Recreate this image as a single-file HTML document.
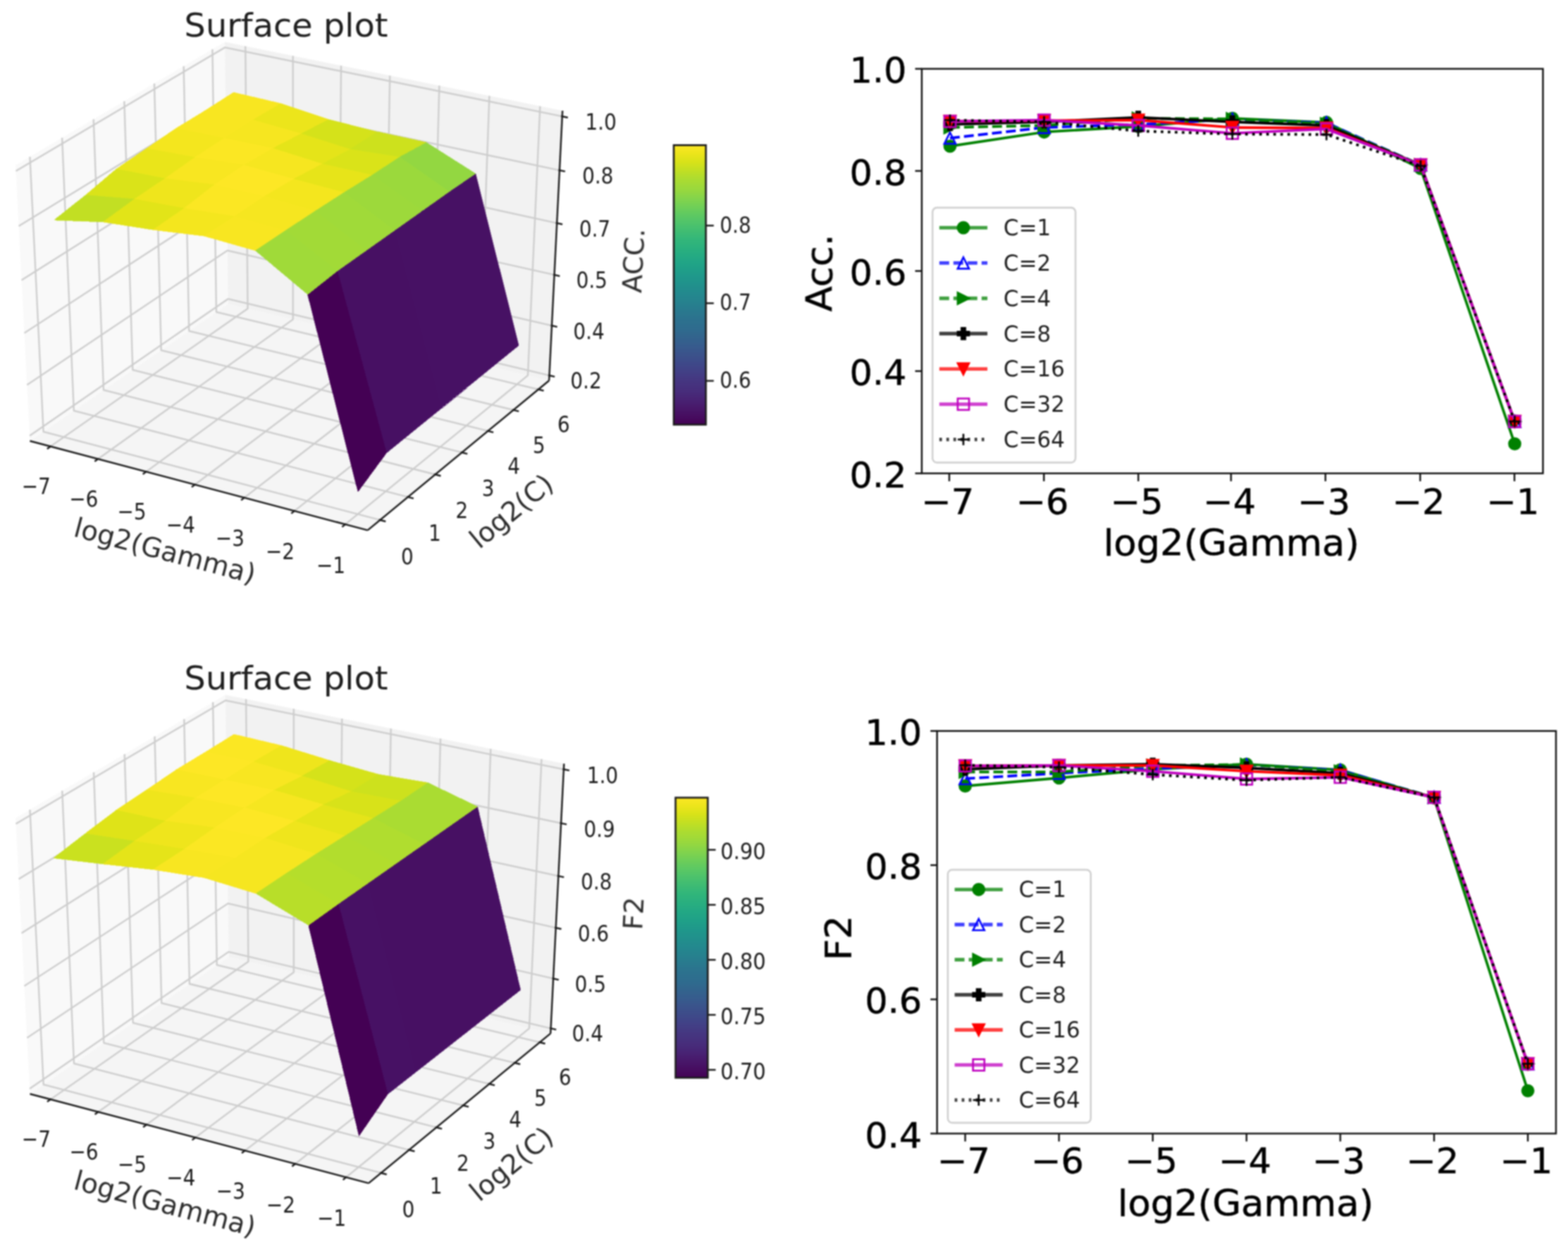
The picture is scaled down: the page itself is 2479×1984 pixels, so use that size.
<!DOCTYPE html><html><head><meta charset="utf-8"><title>Surface plot</title><style>html,body{margin:0;padding:0;background:#fff}svg{display:block;font-family:"DejaVu Sans","Liberation Sans",sans-serif}</style></head><body>
<svg width="2479" height="1984" viewBox="0 0 2479 1984">
<rect width="2479" height="1984" fill="#fff"/>
<filter id="bl" x="0" y="0" width="100%" height="100%" filterUnits="userSpaceOnUse" color-interpolation-filters="sRGB"><feGaussianBlur stdDeviation="1.0"/></filter><g filter="url(#bl)">
<g>
<polygon points="47.3,697.18 360.59,480.47 355.37,66.37 24.61,261.08" fill="#f9f9f9"/>
<polygon points="360.59,480.47 868.1,601.63 889.33,175.04 355.37,66.37" fill="#f2f2f2"/>
<polygon points="47.3,697.18 581.26,838.29 868.1,601.63 360.59,480.47" fill="#f5f5f5"/>
<g stroke="#cdcdcd" stroke-width="2.6" fill="none" stroke-linejoin="round">
<polyline points="79.85,705.78 391.63,487.88 387.96,73.01"/>
<polyline points="154.96,725.63 463.19,504.97 463.14,88.3"/>
<polyline points="231.06,745.74 535.64,522.26 539.28,103.8"/>
<polyline points="308.18,766.12 608.97,539.77 616.41,119.5"/>
<polyline points="386.33,786.77 683.21,557.49 694.54,135.4"/>
<polyline points="465.52,807.7 758.38,575.43 773.7,151.51"/>
<polyline points="545.8,828.92 834.5,593.61 853.91,167.83"/>
<polyline points="47.26,247.75 68.67,682.4 600.89,822.09"/>
<polyline points="98.16,217.79 116.75,649.14 645.01,785.69"/>
<polyline points="147.89,188.52 163.77,616.61 688.13,750.12"/>
<polyline points="196.48,159.91 209.78,584.79 730.26,715.35"/>
<polyline points="243.97,131.95 254.8,553.65 771.45,681.36"/>
<polyline points="290.41,104.62 298.86,523.17 811.73,648.13"/>
<polyline points="335.82,77.88 342,493.33 851.13,615.62"/>
<polyline points="868.5,593.51 360.49,472.58 46.87,688.9"/>
<polyline points="872.42,514.79 359.53,396.03 42.69,608.53"/>
<polyline points="876.41,434.52 358.54,318.04 38.42,526.53"/>
<polyline points="880.49,352.67 357.54,238.58 34.07,442.86"/>
<polyline points="884.64,269.18 356.52,157.6 29.63,357.45"/>
<polyline points="888.88,184.01 355.48,75.06 25.09,270.27"/>
</g>
<g stroke="#1c1c1c" stroke-width="2.7" fill="none" stroke-linecap="butt">
<line x1="47.3" y1="697.18" x2="581.26" y2="838.29"/>
<line x1="868.1" y1="601.63" x2="581.26" y2="838.29"/>
<line x1="868.1" y1="601.63" x2="889.33" y2="175.04"/>
<line x1="80.93" y1="705.03" x2="74.47" y2="709.55"/>
<line x1="156.02" y1="724.87" x2="149.64" y2="729.44"/>
<line x1="232.12" y1="744.97" x2="225.8" y2="749.61"/>
<line x1="309.22" y1="765.34" x2="302.98" y2="770.04"/>
<line x1="387.35" y1="785.98" x2="381.19" y2="790.74"/>
<line x1="466.54" y1="806.9" x2="460.46" y2="811.72"/>
<line x1="546.8" y1="828.1" x2="540.8" y2="832.99"/>
<line x1="599.11" y1="821.62" x2="609.81" y2="824.43"/>
<line x1="643.25" y1="785.23" x2="653.86" y2="787.97"/>
<line x1="686.37" y1="749.67" x2="696.9" y2="752.35"/>
<line x1="728.52" y1="714.91" x2="738.97" y2="717.53"/>
<line x1="769.73" y1="680.94" x2="780.09" y2="683.5"/>
<line x1="810.02" y1="647.71" x2="820.3" y2="650.22"/>
<line x1="849.43" y1="615.22" x2="859.64" y2="617.67"/>
<line x1="866.8" y1="593.11" x2="876.99" y2="595.53"/>
<line x1="870.71" y1="514.39" x2="880.99" y2="516.77"/>
<line x1="874.68" y1="434.13" x2="885.07" y2="436.47"/>
<line x1="878.74" y1="352.29" x2="889.23" y2="354.58"/>
<line x1="882.88" y1="268.81" x2="893.48" y2="271.05"/>
<line x1="887.1" y1="183.65" x2="897.81" y2="185.84"/>
</g>
<text transform="translate(57.21 780.55) scale(0.870 1)" font-size="35.7" text-anchor="middle" fill="#1e1e1e">−7</text>
<text transform="translate(132.31 800.79) scale(0.870 1)" font-size="35.7" text-anchor="middle" fill="#1e1e1e">−6</text>
<text transform="translate(208.41 821.29) scale(0.870 1)" font-size="35.7" text-anchor="middle" fill="#1e1e1e">−5</text>
<text transform="translate(285.52 842.06) scale(0.870 1)" font-size="35.7" text-anchor="middle" fill="#1e1e1e">−4</text>
<text transform="translate(363.66 863.11) scale(0.870 1)" font-size="35.7" text-anchor="middle" fill="#1e1e1e">−3</text>
<text transform="translate(442.86 884.45) scale(0.870 1)" font-size="35.7" text-anchor="middle" fill="#1e1e1e">−2</text>
<text transform="translate(523.13 906.07) scale(0.870 1)" font-size="35.7" text-anchor="middle" fill="#1e1e1e">−1</text>
<text transform="translate(643.84 892.11) scale(0.870 1)" font-size="35.7" text-anchor="middle" fill="#1e1e1e">0</text>
<text transform="translate(687.43 855.2) scale(0.870 1)" font-size="35.7" text-anchor="middle" fill="#1e1e1e">1</text>
<text transform="translate(730.02 819.13) scale(0.870 1)" font-size="35.7" text-anchor="middle" fill="#1e1e1e">2</text>
<text transform="translate(771.64 783.88) scale(0.870 1)" font-size="35.7" text-anchor="middle" fill="#1e1e1e">3</text>
<text transform="translate(812.34 749.42) scale(0.870 1)" font-size="35.7" text-anchor="middle" fill="#1e1e1e">4</text>
<text transform="translate(852.13 715.72) scale(0.870 1)" font-size="35.7" text-anchor="middle" fill="#1e1e1e">5</text>
<text transform="translate(891.05 682.76) scale(0.870 1)" font-size="35.7" text-anchor="middle" fill="#1e1e1e">6</text>
<text transform="translate(926.49 614.17) scale(0.870 1)" font-size="35.7" text-anchor="middle" fill="#1e1e1e">0.2</text>
<text transform="translate(931.01 535.58) scale(0.870 1)" font-size="35.7" text-anchor="middle" fill="#1e1e1e">0.4</text>
<text transform="translate(935.62 455.45) scale(0.870 1)" font-size="35.7" text-anchor="middle" fill="#1e1e1e">0.5</text>
<text transform="translate(940.32 373.74) scale(0.870 1)" font-size="35.7" text-anchor="middle" fill="#1e1e1e">0.7</text>
<text transform="translate(945.12 290.4) scale(0.870 1)" font-size="35.7" text-anchor="middle" fill="#1e1e1e">0.8</text>
<text transform="translate(950.01 205.39) scale(0.870 1)" font-size="35.7" text-anchor="middle" fill="#1e1e1e">1.0</text>
<g shape-rendering="crispEdges">
<polygon points="324.38,174.83 399.78,189.61 444.08,163.7 369.2,146.15" fill="#f8e621" stroke="#f8e621" stroke-width="0.8"/>
<polygon points="399.78,189.61 476.18,211.42 519.84,189.02 444.08,163.7" fill="#ece51b" stroke="#ece51b" stroke-width="0.8"/>
<polygon points="278.53,202.82 354.49,218.48 399.78,189.61 324.38,174.83" fill="#f8e621" stroke="#f8e621" stroke-width="0.8"/>
<polygon points="710.1,303.01 780.13,578.59 820.09,546.11 751.77,274.48" fill="#471164" stroke="#471164" stroke-width="0.8"/>
<polygon points="476.18,211.42 553.44,236.12 596.51,208.35 519.84,189.02" fill="#d5e21a" stroke="#d5e21a" stroke-width="0.8"/>
<polygon points="354.49,218.48 431.46,234.62 476.18,211.42 399.78,189.61" fill="#f6e620" stroke="#f6e620" stroke-width="0.8"/>
<polygon points="553.44,236.12 631.83,248.4 674.18,225.28 596.51,208.35" fill="#cde11d" stroke="#cde11d" stroke-width="0.8"/>
<polygon points="231.74,234.63 308.19,248.82 354.49,218.48 278.53,202.82" fill="#f4e61e" stroke="#f4e61e" stroke-width="0.8"/>
<polygon points="631.83,248.4 710.1,303.01 751.77,274.48 674.18,225.28" fill="#93d741" stroke="#93d741" stroke-width="0.8"/>
<polygon points="667.43,333.27 739.28,611.79 780.13,578.59 710.1,303.01" fill="#471164" stroke="#471164" stroke-width="0.8"/>
<polygon points="431.46,234.62 509.41,259.22 553.44,236.12 476.18,211.42" fill="#e5e419" stroke="#e5e419" stroke-width="0.8"/>
<polygon points="308.19,248.82 385.68,261.06 431.46,234.62 354.49,218.48" fill="#fbe723" stroke="#fbe723" stroke-width="0.8"/>
<polygon points="509.41,259.22 588.36,276.9 631.83,248.4 553.44,236.12" fill="#dae319" stroke="#dae319" stroke-width="0.8"/>
<polygon points="183.91,267.15 260.89,282.25 308.19,248.82 231.74,234.63" fill="#eae51a" stroke="#eae51a" stroke-width="0.8"/>
<polygon points="588.36,276.9 667.43,333.27 710.1,303.01 631.83,248.4" fill="#9bd93c" stroke="#9bd93c" stroke-width="0.8"/>
<polygon points="623.77,364.23 697.51,645.75 739.28,611.79 667.43,333.27" fill="#471164" stroke="#471164" stroke-width="0.8"/>
<polygon points="385.68,261.06 464.3,283.16 509.41,259.22 431.46,234.62" fill="#f6e620" stroke="#f6e620" stroke-width="0.8"/>
<polygon points="260.89,282.25 338.86,292.18 385.68,261.06 308.19,248.82" fill="#f8e621" stroke="#f8e621" stroke-width="0.8"/>
<polygon points="464.3,283.16 543.9,304.45 588.36,276.9 509.41,259.22" fill="#e7e419" stroke="#e7e419" stroke-width="0.8"/>
<polygon points="135.32,308.44 212.48,314.82 260.89,282.25 183.91,267.15" fill="#dae319" stroke="#dae319" stroke-width="0.8"/>
<polygon points="579.07,395.92 654.78,680.48 697.51,645.75 623.77,364.23" fill="#471063" stroke="#471063" stroke-width="0.8"/>
<polygon points="543.9,304.45 623.77,364.23 667.43,333.27 588.36,276.9" fill="#9dd93b" stroke="#9dd93b" stroke-width="0.8"/>
<polygon points="338.86,292.18 418.08,310.4 464.3,283.16 385.68,261.06" fill="#fde725" stroke="#fde725" stroke-width="0.8"/>
<polygon points="212.48,314.82 291.07,329.46 338.86,292.18 260.89,282.25" fill="#efe51c" stroke="#efe51c" stroke-width="0.8"/>
<polygon points="418.08,310.4 498.34,333.75 543.9,304.45 464.3,283.16" fill="#f4e61e" stroke="#f4e61e" stroke-width="0.8"/>
<polygon points="85.6,347.89 163.05,350.86 212.48,314.82 135.32,308.44" fill="#c2df23" stroke="#c2df23" stroke-width="0.8"/>
<polygon points="533.31,428.37 611.07,716.01 654.78,680.48 579.07,395.92" fill="#471063" stroke="#471063" stroke-width="0.8"/>
<polygon points="498.34,333.75 579.07,395.92 623.77,364.23 543.9,304.45" fill="#a0da39" stroke="#a0da39" stroke-width="0.8"/>
<polygon points="291.07,329.46 370.77,342.13 418.08,310.4 338.86,292.18" fill="#fbe723" stroke="#fbe723" stroke-width="0.8"/>
<polygon points="163.05,350.86 242.09,363.19 291.07,329.46 212.48,314.82" fill="#e2e418" stroke="#e2e418" stroke-width="0.8"/>
<polygon points="370.77,342.13 451.69,364.31 498.34,333.75 418.08,310.4" fill="#f6e620" stroke="#f6e620" stroke-width="0.8"/>
<polygon points="486.43,465.45 566.01,777.27 611.07,716.01 533.31,428.37" fill="#440154" stroke="#440154" stroke-width="0.8"/>
<polygon points="451.69,364.31 533.31,428.37 579.07,395.92 498.34,333.75" fill="#a2da37" stroke="#a2da37" stroke-width="0.8"/>
<polygon points="242.09,363.19 322.3,372.96 370.77,342.13 291.07,329.46" fill="#f4e61e" stroke="#f4e61e" stroke-width="0.8"/>
<polygon points="322.3,372.96 403.9,396.17 451.69,364.31 370.77,342.13" fill="#f8e621" stroke="#f8e621" stroke-width="0.8"/>
<polygon points="403.9,396.17 486.43,465.45 533.31,428.37 451.69,364.31" fill="#a0da39" stroke="#a0da39" stroke-width="0.8"/>
</g>
</g>
<text transform="translate(452.4 58.2) scale(1.035 1)" font-size="51.5" text-anchor="middle" fill="#1e1e1e">Surface plot</text>
<text transform="translate(257 885) rotate(14.84)" font-size="42.8" text-anchor="middle" fill="#2c2c2c">log2(Gamma)</text>
<text transform="translate(817.8 819.5) rotate(-39.5)" font-size="42.8" text-anchor="middle" fill="#2c2c2c">log2(C)</text>
<text transform="translate(1016.5 412.7) rotate(-87.1)" font-size="42.8" text-anchor="middle" fill="#2c2c2c">ACC.</text>
<linearGradient id="p1g" x1="0" y1="0" x2="0" y2="1"><stop offset="0" stop-color="#fde725"/><stop offset="0.03" stop-color="#ece51b"/><stop offset="0.06" stop-color="#d8e219"/><stop offset="0.09" stop-color="#c2df23"/><stop offset="0.12" stop-color="#addc30"/><stop offset="0.16" stop-color="#98d83e"/><stop offset="0.19" stop-color="#84d44b"/><stop offset="0.22" stop-color="#70cf57"/><stop offset="0.25" stop-color="#5ec962"/><stop offset="0.28" stop-color="#4ec36b"/><stop offset="0.31" stop-color="#3fbc73"/><stop offset="0.34" stop-color="#32b67a"/><stop offset="0.38" stop-color="#28ae80"/><stop offset="0.41" stop-color="#22a785"/><stop offset="0.44" stop-color="#1fa088"/><stop offset="0.47" stop-color="#1f988b"/><stop offset="0.5" stop-color="#21918c"/><stop offset="0.53" stop-color="#23898e"/><stop offset="0.56" stop-color="#26828e"/><stop offset="0.59" stop-color="#297a8e"/><stop offset="0.62" stop-color="#2c728e"/><stop offset="0.66" stop-color="#2f6b8e"/><stop offset="0.69" stop-color="#33638d"/><stop offset="0.72" stop-color="#375b8d"/><stop offset="0.75" stop-color="#3b528b"/><stop offset="0.78" stop-color="#3e4989"/><stop offset="0.81" stop-color="#424086"/><stop offset="0.84" stop-color="#453781"/><stop offset="0.88" stop-color="#472d7b"/><stop offset="0.91" stop-color="#482374"/><stop offset="0.94" stop-color="#48186a"/><stop offset="0.97" stop-color="#470d60"/><stop offset="1" stop-color="#440154"/></linearGradient>
<rect x="1065.2" y="229.5" width="50.8" height="441.8" fill="url(#p1g)" stroke="#1c1c1c" stroke-width="2.9"/>
<line x1="1116" y1="602.08" x2="1128.5" y2="602.08" stroke="#1c1c1c" stroke-width="2.7"/>
<text transform="translate(1138 613.22) scale(0.870 1)" font-size="35.7" fill="#1e1e1e">0.6</text>
<line x1="1116" y1="479.36" x2="1128.5" y2="479.36" stroke="#1c1c1c" stroke-width="2.7"/>
<text transform="translate(1138 490.49) scale(0.870 1)" font-size="35.7" fill="#1e1e1e">0.7</text>
<line x1="1116" y1="356.64" x2="1128.5" y2="356.64" stroke="#1c1c1c" stroke-width="2.7"/>
<text transform="translate(1138 367.77) scale(0.870 1)" font-size="35.7" fill="#1e1e1e">0.8</text>
<g>
<polygon points="47.33,1729.38 361.5,1512.67 356.27,1098.57 24.58,1293.28" fill="#f9f9f9"/>
<polygon points="361.5,1512.67 870.43,1633.83 891.72,1207.24 356.27,1098.57" fill="#f2f2f2"/>
<polygon points="47.33,1729.38 582.79,1870.49 870.43,1633.83 361.5,1512.67" fill="#f5f5f5"/>
<g stroke="#cdcdcd" stroke-width="2.6" fill="none" stroke-linejoin="round">
<polyline points="79.97,1737.98 392.62,1520.08 388.95,1105.21"/>
<polyline points="155.29,1757.83 464.39,1537.17 464.33,1120.5"/>
<polyline points="231.61,1777.94 537.04,1554.46 540.69,1136"/>
<polyline points="308.94,1798.32 610.58,1571.97 618.03,1151.7"/>
<polyline points="387.31,1818.97 685.03,1589.69 696.39,1167.6"/>
<polyline points="466.73,1839.9 760.41,1607.63 775.77,1183.71"/>
<polyline points="547.23,1861.12 836.73,1625.81 856.2,1200.03"/>
<polyline points="47.29,1279.95 68.76,1714.6 602.48,1854.29"/>
<polyline points="98.33,1249.99 116.97,1681.34 646.72,1817.89"/>
<polyline points="148.2,1220.72 164.13,1648.81 689.95,1782.32"/>
<polyline points="196.93,1192.11 210.27,1616.99 732.21,1747.55"/>
<polyline points="244.55,1164.15 255.41,1585.85 773.51,1713.56"/>
<polyline points="291.12,1136.82 299.6,1555.37 813.91,1680.33"/>
<polyline points="336.66,1110.08 342.86,1525.53 853.41,1647.82"/>
<polyline points="870.83,1625.71 361.4,1504.78 46.9,1721.1"/>
<polyline points="874.76,1546.99 360.43,1428.23 42.7,1640.73"/>
<polyline points="878.77,1466.72 359.45,1350.24 38.43,1558.73"/>
<polyline points="882.86,1384.87 358.44,1270.78 34.06,1475.06"/>
<polyline points="887.02,1301.38 357.42,1189.8 29.61,1389.65"/>
<polyline points="891.27,1216.21 356.38,1107.26 25.06,1302.47"/>
</g>
<g stroke="#1c1c1c" stroke-width="2.7" fill="none" stroke-linecap="butt">
<line x1="47.33" y1="1729.38" x2="582.79" y2="1870.49"/>
<line x1="870.43" y1="1633.83" x2="582.79" y2="1870.49"/>
<line x1="870.43" y1="1633.83" x2="891.72" y2="1207.24"/>
<line x1="81.05" y1="1737.23" x2="74.58" y2="1741.75"/>
<line x1="156.36" y1="1757.07" x2="149.96" y2="1761.64"/>
<line x1="232.66" y1="1777.17" x2="226.33" y2="1781.81"/>
<line x1="309.98" y1="1797.54" x2="303.73" y2="1802.24"/>
<line x1="388.33" y1="1818.18" x2="382.16" y2="1822.94"/>
<line x1="467.74" y1="1839.1" x2="461.65" y2="1843.92"/>
<line x1="548.23" y1="1860.3" x2="542.21" y2="1865.19"/>
<line x1="600.69" y1="1853.82" x2="611.42" y2="1856.63"/>
<line x1="644.95" y1="1817.43" x2="655.59" y2="1820.17"/>
<line x1="688.2" y1="1781.87" x2="698.76" y2="1784.55"/>
<line x1="730.46" y1="1747.11" x2="740.94" y2="1749.73"/>
<line x1="771.78" y1="1713.14" x2="782.18" y2="1715.7"/>
<line x1="812.19" y1="1679.91" x2="822.5" y2="1682.42"/>
<line x1="851.71" y1="1647.42" x2="861.94" y2="1649.87"/>
<line x1="869.13" y1="1625.31" x2="879.34" y2="1627.73"/>
<line x1="873.05" y1="1546.59" x2="883.36" y2="1548.97"/>
<line x1="877.03" y1="1466.33" x2="887.45" y2="1468.67"/>
<line x1="881.1" y1="1384.49" x2="891.63" y2="1386.78"/>
<line x1="885.25" y1="1301.01" x2="895.88" y2="1303.25"/>
<line x1="889.48" y1="1215.85" x2="900.23" y2="1218.04"/>
</g>
<text transform="translate(57.26 1812.75) scale(0.870 1)" font-size="35.7" text-anchor="middle" fill="#1e1e1e">−7</text>
<text transform="translate(132.57 1832.99) scale(0.870 1)" font-size="35.7" text-anchor="middle" fill="#1e1e1e">−6</text>
<text transform="translate(208.88 1853.49) scale(0.870 1)" font-size="35.7" text-anchor="middle" fill="#1e1e1e">−5</text>
<text transform="translate(286.21 1874.26) scale(0.870 1)" font-size="35.7" text-anchor="middle" fill="#1e1e1e">−4</text>
<text transform="translate(364.57 1895.31) scale(0.870 1)" font-size="35.7" text-anchor="middle" fill="#1e1e1e">−3</text>
<text transform="translate(443.99 1916.65) scale(0.870 1)" font-size="35.7" text-anchor="middle" fill="#1e1e1e">−2</text>
<text transform="translate(524.49 1938.27) scale(0.870 1)" font-size="35.7" text-anchor="middle" fill="#1e1e1e">−1</text>
<text transform="translate(645.54 1924.31) scale(0.870 1)" font-size="35.7" text-anchor="middle" fill="#1e1e1e">0</text>
<text transform="translate(689.26 1887.4) scale(0.870 1)" font-size="35.7" text-anchor="middle" fill="#1e1e1e">1</text>
<text transform="translate(731.97 1851.33) scale(0.870 1)" font-size="35.7" text-anchor="middle" fill="#1e1e1e">2</text>
<text transform="translate(773.71 1816.08) scale(0.870 1)" font-size="35.7" text-anchor="middle" fill="#1e1e1e">3</text>
<text transform="translate(814.52 1781.62) scale(0.870 1)" font-size="35.7" text-anchor="middle" fill="#1e1e1e">4</text>
<text transform="translate(854.42 1747.92) scale(0.870 1)" font-size="35.7" text-anchor="middle" fill="#1e1e1e">5</text>
<text transform="translate(893.46 1714.96) scale(0.870 1)" font-size="35.7" text-anchor="middle" fill="#1e1e1e">6</text>
<text transform="translate(929 1646.37) scale(0.870 1)" font-size="35.7" text-anchor="middle" fill="#1e1e1e">0.4</text>
<text transform="translate(933.53 1567.78) scale(0.870 1)" font-size="35.7" text-anchor="middle" fill="#1e1e1e">0.5</text>
<text transform="translate(938.16 1487.65) scale(0.870 1)" font-size="35.7" text-anchor="middle" fill="#1e1e1e">0.6</text>
<text transform="translate(942.87 1405.94) scale(0.870 1)" font-size="35.7" text-anchor="middle" fill="#1e1e1e">0.8</text>
<text transform="translate(947.68 1322.6) scale(0.870 1)" font-size="35.7" text-anchor="middle" fill="#1e1e1e">0.9</text>
<text transform="translate(952.59 1237.59) scale(0.870 1)" font-size="35.7" text-anchor="middle" fill="#1e1e1e">1.0</text>
<g shape-rendering="crispEdges">
<polygon points="324.89,1188.92 400.67,1204.5 445.18,1178.72 369.94,1160.98" fill="#fbe723" stroke="#fbe723" stroke-width="0.8"/>
<polygon points="400.67,1204.5 477.43,1226.77 521.32,1202.26 445.18,1178.72" fill="#efe51c" stroke="#efe51c" stroke-width="0.8"/>
<polygon points="278.81,1216.77 355.15,1232.72 400.67,1204.5 324.89,1188.92" fill="#fde725" stroke="#fde725" stroke-width="0.8"/>
<polygon points="477.43,1226.77 555.07,1251.34 598.33,1224.24 521.32,1202.26" fill="#d5e21a" stroke="#d5e21a" stroke-width="0.8"/>
<polygon points="712.89,1304.5 782.78,1596.49 822.87,1565.03 754.85,1275.17" fill="#471063" stroke="#471063" stroke-width="0.8"/>
<polygon points="355.15,1232.72 432.5,1249.3 477.43,1226.77 400.67,1204.5" fill="#f8e621" stroke="#f8e621" stroke-width="0.8"/>
<polygon points="555.07,1251.34 633.78,1266.27 676.47,1237.49 598.33,1224.24" fill="#cde11d" stroke="#cde11d" stroke-width="0.8"/>
<polygon points="231.79,1248.8 308.59,1261.58 355.15,1232.72 278.81,1216.77" fill="#f8e621" stroke="#f8e621" stroke-width="0.8"/>
<polygon points="633.78,1266.27 712.89,1304.5 754.85,1275.17 676.47,1237.49" fill="#aadc32" stroke="#aadc32" stroke-width="0.8"/>
<polygon points="432.5,1249.3 510.84,1272.23 555.07,1251.34 477.43,1226.77" fill="#e7e419" stroke="#e7e419" stroke-width="0.8"/>
<polygon points="669.95,1334.51 741.78,1628.66 782.78,1596.49 712.89,1304.5" fill="#471063" stroke="#471063" stroke-width="0.8"/>
<polygon points="308.59,1261.58 386.51,1277.18 432.5,1249.3 355.15,1232.72" fill="#fde725" stroke="#fde725" stroke-width="0.8"/>
<polygon points="510.84,1272.23 590.14,1293.58 633.78,1266.27 555.07,1251.34" fill="#d8e219" stroke="#d8e219" stroke-width="0.8"/>
<polygon points="183.71,1280.83 261.12,1297.99 308.59,1261.58 231.79,1248.8" fill="#efe51c" stroke="#efe51c" stroke-width="0.8"/>
<polygon points="590.14,1293.58 669.95,1334.51 712.89,1304.5 633.78,1266.27" fill="#aadc32" stroke="#aadc32" stroke-width="0.8"/>
<polygon points="626.01,1365.23 699.84,1661.57 741.78,1628.66 669.95,1334.51" fill="#471063" stroke="#471063" stroke-width="0.8"/>
<polygon points="386.51,1277.18 465.5,1298.32 510.84,1272.23 432.5,1249.3" fill="#f6e620" stroke="#f6e620" stroke-width="0.8"/>
<polygon points="261.12,1297.99 339.47,1308.47 386.51,1277.18 308.59,1261.58" fill="#f8e621" stroke="#f8e621" stroke-width="0.8"/>
<polygon points="465.5,1298.32 545.46,1321.53 590.14,1293.58 510.84,1272.23" fill="#e5e419" stroke="#e5e419" stroke-width="0.8"/>
<polygon points="134.7,1317.89 212.45,1329.72 261.12,1297.99 183.71,1280.83" fill="#dfe318" stroke="#dfe318" stroke-width="0.8"/>
<polygon points="545.46,1321.53 626.01,1365.23 669.95,1334.51 590.14,1293.58" fill="#b0dd2f" stroke="#b0dd2f" stroke-width="0.8"/>
<polygon points="581.03,1396.67 656.93,1695.24 699.84,1661.57 626.01,1365.23" fill="#471063" stroke="#471063" stroke-width="0.8"/>
<polygon points="339.47,1308.47 419.05,1325.05 465.5,1298.32 386.51,1277.18" fill="#fde725" stroke="#fde725" stroke-width="0.8"/>
<polygon points="212.45,1329.72 291.38,1342.44 339.47,1308.47 261.12,1297.99" fill="#efe51c" stroke="#efe51c" stroke-width="0.8"/>
<polygon points="419.05,1325.05 499.7,1350.16 545.46,1321.53 465.5,1298.32" fill="#efe51c" stroke="#efe51c" stroke-width="0.8"/>
<polygon points="84.66,1356.49 162.78,1365.82 212.45,1329.72 134.7,1317.89" fill="#cae11f" stroke="#cae11f" stroke-width="0.8"/>
<polygon points="534.97,1428.87 613.02,1729.7 656.93,1695.24 581.03,1396.67" fill="#471164" stroke="#471164" stroke-width="0.8"/>
<polygon points="499.7,1350.16 581.03,1396.67 626.01,1365.23 545.46,1321.53" fill="#b2dd2d" stroke="#b2dd2d" stroke-width="0.8"/>
<polygon points="291.38,1342.44 371.51,1356.46 419.05,1325.05 339.47,1308.47" fill="#fbe723" stroke="#fbe723" stroke-width="0.8"/>
<polygon points="162.78,1365.82 242.11,1374.57 291.38,1342.44 212.45,1329.72" fill="#e5e419" stroke="#e5e419" stroke-width="0.8"/>
<polygon points="371.51,1356.46 452.83,1380.59 499.7,1350.16 419.05,1325.05" fill="#f6e620" stroke="#f6e620" stroke-width="0.8"/>
<polygon points="487.79,1462.59 567.67,1795.61 613.02,1729.7 534.97,1428.87" fill="#440154" stroke="#440154" stroke-width="0.8"/>
<polygon points="452.83,1380.59 534.97,1428.87 581.03,1396.67 499.7,1350.16" fill="#b5de2b" stroke="#b5de2b" stroke-width="0.8"/>
<polygon points="242.11,1374.57 322.8,1387.51 371.51,1356.46 291.38,1342.44" fill="#f8e621" stroke="#f8e621" stroke-width="0.8"/>
<polygon points="322.8,1387.51 404.81,1412.5 452.83,1380.59 371.51,1356.46" fill="#f6e620" stroke="#f6e620" stroke-width="0.8"/>
<polygon points="404.81,1412.5 487.79,1462.59 534.97,1428.87 452.83,1380.59" fill="#b8de29" stroke="#b8de29" stroke-width="0.8"/>
</g>
</g>
<text transform="translate(452.4 1090.4) scale(1.035 1)" font-size="51.5" text-anchor="middle" fill="#1e1e1e">Surface plot</text>
<text transform="translate(257 1917) rotate(14.84)" font-size="42.8" text-anchor="middle" fill="#2c2c2c">log2(Gamma)</text>
<text transform="translate(817.8 1851.5) rotate(-39.5)" font-size="42.8" text-anchor="middle" fill="#2c2c2c">log2(C)</text>
<text transform="translate(1016.5 1444.7) rotate(-87.1)" font-size="42.8" text-anchor="middle" fill="#2c2c2c">F2</text>
<linearGradient id="p3g" x1="0" y1="0" x2="0" y2="1"><stop offset="0" stop-color="#fde725"/><stop offset="0.03" stop-color="#ece51b"/><stop offset="0.06" stop-color="#d8e219"/><stop offset="0.09" stop-color="#c2df23"/><stop offset="0.12" stop-color="#addc30"/><stop offset="0.16" stop-color="#98d83e"/><stop offset="0.19" stop-color="#84d44b"/><stop offset="0.22" stop-color="#70cf57"/><stop offset="0.25" stop-color="#5ec962"/><stop offset="0.28" stop-color="#4ec36b"/><stop offset="0.31" stop-color="#3fbc73"/><stop offset="0.34" stop-color="#32b67a"/><stop offset="0.38" stop-color="#28ae80"/><stop offset="0.41" stop-color="#22a785"/><stop offset="0.44" stop-color="#1fa088"/><stop offset="0.47" stop-color="#1f988b"/><stop offset="0.5" stop-color="#21918c"/><stop offset="0.53" stop-color="#23898e"/><stop offset="0.56" stop-color="#26828e"/><stop offset="0.59" stop-color="#297a8e"/><stop offset="0.62" stop-color="#2c728e"/><stop offset="0.66" stop-color="#2f6b8e"/><stop offset="0.69" stop-color="#33638d"/><stop offset="0.72" stop-color="#375b8d"/><stop offset="0.75" stop-color="#3b528b"/><stop offset="0.78" stop-color="#3e4989"/><stop offset="0.81" stop-color="#424086"/><stop offset="0.84" stop-color="#453781"/><stop offset="0.88" stop-color="#472d7b"/><stop offset="0.91" stop-color="#482374"/><stop offset="0.94" stop-color="#48186a"/><stop offset="0.97" stop-color="#470d60"/><stop offset="1" stop-color="#440154"/></linearGradient>
<rect x="1068" y="1261" width="51" height="442.8" fill="url(#p3g)" stroke="#1c1c1c" stroke-width="2.9"/>
<line x1="1119" y1="1691.28" x2="1131.5" y2="1691.28" stroke="#1c1c1c" stroke-width="2.7"/>
<text transform="translate(1139 1706.01) scale(0.905 1)" font-size="35.7" fill="#1e1e1e">0.70</text>
<line x1="1119" y1="1604.32" x2="1131.5" y2="1604.32" stroke="#1c1c1c" stroke-width="2.7"/>
<text transform="translate(1139 1619.05) scale(0.905 1)" font-size="35.7" fill="#1e1e1e">0.75</text>
<line x1="1119" y1="1517.36" x2="1131.5" y2="1517.36" stroke="#1c1c1c" stroke-width="2.7"/>
<text transform="translate(1139 1532.09) scale(0.905 1)" font-size="35.7" fill="#1e1e1e">0.80</text>
<line x1="1119" y1="1430.4" x2="1131.5" y2="1430.4" stroke="#1c1c1c" stroke-width="2.7"/>
<text transform="translate(1139 1445.13) scale(0.905 1)" font-size="35.7" fill="#1e1e1e">0.85</text>
<line x1="1119" y1="1343.44" x2="1131.5" y2="1343.44" stroke="#1c1c1c" stroke-width="2.7"/>
<text transform="translate(1139 1358.17) scale(0.905 1)" font-size="35.7" fill="#1e1e1e">0.90</text>
<g>
<polyline points="1501.94,231.1 1650.74,208.72 1799.55,199.93 1948.35,187.14 2097.15,193.53 2245.96,266.28 2394.76,701.62" fill="none" stroke="#008000" stroke-width="4.2" stroke-linejoin="round"/>
<circle cx="1501.94" cy="231.1" r="9" fill="#008000" stroke="#008000" stroke-width="2.9"/>
<circle cx="1650.74" cy="208.72" r="9" fill="#008000" stroke="#008000" stroke-width="2.9"/>
<circle cx="1799.55" cy="199.93" r="9" fill="#008000" stroke="#008000" stroke-width="2.9"/>
<circle cx="1948.35" cy="187.14" r="9" fill="#008000" stroke="#008000" stroke-width="2.9"/>
<circle cx="2097.15" cy="193.53" r="9" fill="#008000" stroke="#008000" stroke-width="2.9"/>
<circle cx="2245.96" cy="266.28" r="9" fill="#008000" stroke="#008000" stroke-width="2.9"/>
<circle cx="2394.76" cy="701.62" r="9" fill="#008000" stroke="#008000" stroke-width="2.9"/>
<polyline points="1501.94,218.31 1650.74,201.53 1799.55,196.73 1948.35,188.74 2097.15,194.33 2245.96,260.68 2394.76,666.28" fill="none" stroke="#0000ff" stroke-width="4.2" stroke-linejoin="round" stroke-dasharray="15.54 6.72"/>
<polygon points="1501.94,209.31 1510.94,227.31 1492.94,227.31" fill="none" stroke="#0000ff" stroke-width="2.9" stroke-linejoin="miter"/>
<polygon points="1650.74,192.53 1659.74,210.53 1641.74,210.53" fill="none" stroke="#0000ff" stroke-width="2.9" stroke-linejoin="miter"/>
<polygon points="1799.55,187.73 1808.55,205.73 1790.55,205.73" fill="none" stroke="#0000ff" stroke-width="2.9" stroke-linejoin="miter"/>
<polygon points="1948.35,179.74 1957.35,197.74 1939.35,197.74" fill="none" stroke="#0000ff" stroke-width="2.9" stroke-linejoin="miter"/>
<polygon points="2097.15,185.33 2106.15,203.33 2088.15,203.33" fill="none" stroke="#0000ff" stroke-width="2.9" stroke-linejoin="miter"/>
<polygon points="2245.96,251.68 2254.96,269.68 2236.96,269.68" fill="none" stroke="#0000ff" stroke-width="2.9" stroke-linejoin="miter"/>
<polygon points="2394.76,657.28 2403.76,675.28 2385.76,675.28" fill="none" stroke="#0000ff" stroke-width="2.9" stroke-linejoin="miter"/>
<polyline points="1501.94,201.53 1650.74,198.33 1799.55,187.14 1948.35,187.94 2097.15,195.93 2245.96,260.68 2394.76,666.28" fill="none" stroke="#008000" stroke-width="4.2" stroke-linejoin="round" stroke-dasharray="15.54 6.72"/>
<polygon points="1510.94,201.53 1492.94,210.53 1492.94,192.53" fill="#008000" stroke="#008000" stroke-width="2.9"/>
<polygon points="1659.74,198.33 1641.74,207.33 1641.74,189.33" fill="#008000" stroke="#008000" stroke-width="2.9"/>
<polygon points="1808.55,187.14 1790.55,196.14 1790.55,178.14" fill="#008000" stroke="#008000" stroke-width="2.9"/>
<polygon points="1957.35,187.94 1939.35,196.94 1939.35,178.94" fill="#008000" stroke="#008000" stroke-width="2.9"/>
<polygon points="2106.15,195.93 2088.15,204.93 2088.15,186.93" fill="#008000" stroke="#008000" stroke-width="2.9"/>
<polygon points="2254.96,260.68 2236.96,269.68 2236.96,251.68" fill="#008000" stroke="#008000" stroke-width="2.9"/>
<polygon points="2403.76,666.28 2385.76,675.28 2385.76,657.28" fill="#008000" stroke="#008000" stroke-width="2.9"/>
<polyline points="1501.94,196.73 1650.74,192.73 1799.55,185.54 1948.35,192.73 2097.15,198.33 2245.96,260.68 2394.76,666.28" fill="none" stroke="#000000" stroke-width="4.2" stroke-linejoin="round"/>
<polygon points="1498.94,187.73 1504.94,187.73 1504.94,193.73 1510.94,193.73 1510.94,199.73 1504.94,199.73 1504.94,205.73 1498.94,205.73 1498.94,199.73 1492.94,199.73 1492.94,193.73 1498.94,193.73" fill="#000000" stroke="#000000" stroke-width="2.9"/>
<polygon points="1647.74,183.73 1653.74,183.73 1653.74,189.73 1659.74,189.73 1659.74,195.73 1653.74,195.73 1653.74,201.73 1647.74,201.73 1647.74,195.73 1641.74,195.73 1641.74,189.73 1647.74,189.73" fill="#000000" stroke="#000000" stroke-width="2.9"/>
<polygon points="1796.55,176.54 1802.55,176.54 1802.55,182.54 1808.55,182.54 1808.55,188.54 1802.55,188.54 1802.55,194.54 1796.55,194.54 1796.55,188.54 1790.55,188.54 1790.55,182.54 1796.55,182.54" fill="#000000" stroke="#000000" stroke-width="2.9"/>
<polygon points="1945.35,183.73 1951.35,183.73 1951.35,189.73 1957.35,189.73 1957.35,195.73 1951.35,195.73 1951.35,201.73 1945.35,201.73 1945.35,195.73 1939.35,195.73 1939.35,189.73 1945.35,189.73" fill="#000000" stroke="#000000" stroke-width="2.9"/>
<polygon points="2094.15,189.33 2100.15,189.33 2100.15,195.33 2106.15,195.33 2106.15,201.33 2100.15,201.33 2100.15,207.33 2094.15,207.33 2094.15,201.33 2088.15,201.33 2088.15,195.33 2094.15,195.33" fill="#000000" stroke="#000000" stroke-width="2.9"/>
<polygon points="2242.96,251.68 2248.96,251.68 2248.96,257.68 2254.96,257.68 2254.96,263.68 2248.96,263.68 2248.96,269.68 2242.96,269.68 2242.96,263.68 2236.96,263.68 2236.96,257.68 2242.96,257.68" fill="#000000" stroke="#000000" stroke-width="2.9"/>
<polygon points="2391.76,657.28 2397.76,657.28 2397.76,663.28 2403.76,663.28 2403.76,669.28 2397.76,669.28 2397.76,675.28 2391.76,675.28 2391.76,669.28 2385.76,669.28 2385.76,663.28 2391.76,663.28" fill="#000000" stroke="#000000" stroke-width="2.9"/>
<polyline points="1501.94,191.94 1650.74,190.74 1799.55,189.94 1948.35,201.53 2097.15,202.33 2245.96,260.68 2394.76,666.28" fill="none" stroke="#ff0000" stroke-width="4.2" stroke-linejoin="round"/>
<polygon points="1501.94,200.94 1510.94,182.94 1492.94,182.94" fill="#ff0000" stroke="#ff0000" stroke-width="2.9"/>
<polygon points="1650.74,199.74 1659.74,181.74 1641.74,181.74" fill="#ff0000" stroke="#ff0000" stroke-width="2.9"/>
<polygon points="1799.55,198.94 1808.55,180.94 1790.55,180.94" fill="#ff0000" stroke="#ff0000" stroke-width="2.9"/>
<polygon points="1948.35,210.53 1957.35,192.53 1939.35,192.53" fill="#ff0000" stroke="#ff0000" stroke-width="2.9"/>
<polygon points="2097.15,211.33 2106.15,193.33 2088.15,193.33" fill="#ff0000" stroke="#ff0000" stroke-width="2.9"/>
<polygon points="2245.96,269.68 2254.96,251.68 2236.96,251.68" fill="#ff0000" stroke="#ff0000" stroke-width="2.9"/>
<polygon points="2394.76,675.28 2403.76,657.28 2385.76,657.28" fill="#ff0000" stroke="#ff0000" stroke-width="2.9"/>
<polyline points="1501.94,191.94 1650.74,189.94 1799.55,198.33 1948.35,210.72 2097.15,203.93 2245.96,260.68 2394.76,666.28" fill="none" stroke="#bf00bf" stroke-width="4.2" stroke-linejoin="round"/>
<rect x="1492.94" y="182.94" width="18" height="18" fill="none" stroke="#bf00bf" stroke-width="2.9"/>
<rect x="1641.74" y="180.94" width="18" height="18" fill="none" stroke="#bf00bf" stroke-width="2.9"/>
<rect x="1790.55" y="189.33" width="18" height="18" fill="none" stroke="#bf00bf" stroke-width="2.9"/>
<rect x="1939.35" y="201.72" width="18" height="18" fill="none" stroke="#bf00bf" stroke-width="2.9"/>
<rect x="2088.15" y="194.93" width="18" height="18" fill="none" stroke="#bf00bf" stroke-width="2.9"/>
<rect x="2236.96" y="251.68" width="18" height="18" fill="none" stroke="#bf00bf" stroke-width="2.9"/>
<rect x="2385.76" y="657.28" width="18" height="18" fill="none" stroke="#bf00bf" stroke-width="2.9"/>
<polyline points="1501.94,189.94 1650.74,192.73 1799.55,207.12 1948.35,211.92 2097.15,212.72 2245.96,262.28 2394.76,666.28" fill="none" stroke="#000000" stroke-width="4.2" stroke-linejoin="round" stroke-dasharray="4.2 6.93"/>
<line x1="1492.94" y1="189.94" x2="1510.94" y2="189.94" stroke="#000000" stroke-width="2.9"/><line x1="1501.94" y1="180.94" x2="1501.94" y2="198.94" stroke="#000000" stroke-width="2.9"/>
<line x1="1641.74" y1="192.73" x2="1659.74" y2="192.73" stroke="#000000" stroke-width="2.9"/><line x1="1650.74" y1="183.73" x2="1650.74" y2="201.73" stroke="#000000" stroke-width="2.9"/>
<line x1="1790.55" y1="207.12" x2="1808.55" y2="207.12" stroke="#000000" stroke-width="2.9"/><line x1="1799.55" y1="198.12" x2="1799.55" y2="216.12" stroke="#000000" stroke-width="2.9"/>
<line x1="1939.35" y1="211.92" x2="1957.35" y2="211.92" stroke="#000000" stroke-width="2.9"/><line x1="1948.35" y1="202.92" x2="1948.35" y2="220.92" stroke="#000000" stroke-width="2.9"/>
<line x1="2088.15" y1="212.72" x2="2106.15" y2="212.72" stroke="#000000" stroke-width="2.9"/><line x1="2097.15" y1="203.72" x2="2097.15" y2="221.72" stroke="#000000" stroke-width="2.9"/>
<line x1="2236.96" y1="262.28" x2="2254.96" y2="262.28" stroke="#000000" stroke-width="2.9"/><line x1="2245.96" y1="253.28" x2="2245.96" y2="271.28" stroke="#000000" stroke-width="2.9"/>
<line x1="2385.76" y1="666.28" x2="2403.76" y2="666.28" stroke="#000000" stroke-width="2.9"/><line x1="2394.76" y1="657.28" x2="2394.76" y2="675.28" stroke="#000000" stroke-width="2.9"/>
<rect x="1457.3" y="108.8" width="982.1" height="639.5" fill="none" stroke="#111" stroke-width="2.7"/>
<g stroke="#111" stroke-width="2.7">
<line x1="1500.8" y1="748.3" x2="1500.8" y2="760.8"/>
<line x1="1650.4" y1="748.3" x2="1650.4" y2="760.8"/>
<line x1="1799.7" y1="748.3" x2="1799.7" y2="760.8"/>
<line x1="1946.2" y1="748.3" x2="1946.2" y2="760.8"/>
<line x1="2095.5" y1="748.3" x2="2095.5" y2="760.8"/>
<line x1="2245.3" y1="748.3" x2="2245.3" y2="760.8"/>
<line x1="2394.3" y1="748.3" x2="2394.3" y2="760.8"/>
<line x1="1446.8" y1="748.3" x2="1457.3" y2="748.3"/>
<line x1="1446.8" y1="586.7" x2="1457.3" y2="586.7"/>
<line x1="1446.8" y1="428.4" x2="1457.3" y2="428.4"/>
<line x1="1446.8" y1="270.2" x2="1457.3" y2="270.2"/>
<line x1="1446.8" y1="108.8" x2="1457.3" y2="108.8"/>
</g>
<text transform="translate(1498.3 811.8) scale(1.030 1)" font-size="55" text-anchor="middle" fill="#000" stroke="#000" stroke-width="0.6">−7</text>
<text transform="translate(1647.9 811.8) scale(1.030 1)" font-size="55" text-anchor="middle" fill="#000" stroke="#000" stroke-width="0.6">−6</text>
<text transform="translate(1797.2 811.8) scale(1.030 1)" font-size="55" text-anchor="middle" fill="#000" stroke="#000" stroke-width="0.6">−5</text>
<text transform="translate(1943.7 811.8) scale(1.030 1)" font-size="55" text-anchor="middle" fill="#000" stroke="#000" stroke-width="0.6">−4</text>
<text transform="translate(2093 811.8) scale(1.030 1)" font-size="55" text-anchor="middle" fill="#000" stroke="#000" stroke-width="0.6">−3</text>
<text transform="translate(2242.8 811.8) scale(1.030 1)" font-size="55" text-anchor="middle" fill="#000" stroke="#000" stroke-width="0.6">−2</text>
<text transform="translate(2391.8 811.8) scale(1.030 1)" font-size="55" text-anchor="middle" fill="#000" stroke="#000" stroke-width="0.6">−1</text>
<text transform="translate(1433.3 769.8) scale(1.030 1)" font-size="55" text-anchor="end" fill="#000" stroke="#000" stroke-width="0.6">0.2</text>
<text transform="translate(1433.3 608.2) scale(1.030 1)" font-size="55" text-anchor="end" fill="#000" stroke="#000" stroke-width="0.6">0.4</text>
<text transform="translate(1433.3 449.9) scale(1.030 1)" font-size="55" text-anchor="end" fill="#000" stroke="#000" stroke-width="0.6">0.6</text>
<text transform="translate(1433.3 291.7) scale(1.030 1)" font-size="55" text-anchor="end" fill="#000" stroke="#000" stroke-width="0.6">0.8</text>
<text transform="translate(1433.3 130.3) scale(1.030 1)" font-size="55" text-anchor="end" fill="#000" stroke="#000" stroke-width="0.6">1.0</text>
<text transform="translate(1946.85 877.9) scale(1.040 1)" font-size="56.5" text-anchor="middle" fill="#000" stroke="#000" stroke-width="0.6">log2(Gamma)</text>
<text transform="translate(1315.3 431.55) rotate(-90) scale(1.040 1)" font-size="56.5" text-anchor="middle" fill="#000" stroke="#000" stroke-width="0.6">Acc.</text>
<rect x="1474.3" y="328.3" width="226" height="403" rx="7" fill="#fff" fill-opacity="0.8" stroke="#ccc" stroke-opacity="0.9" stroke-width="2.9"/>
<line x1="1485.1" y1="360" x2="1561.1" y2="360" stroke="#008000" stroke-opacity="0.75" stroke-width="5.6"/>
<circle cx="1523.1" cy="360" r="9" fill="#008000" stroke="#008000" stroke-width="2.9"/>
<text transform="translate(1586.6 372.2) scale(0.950 1)" font-size="36.3" fill="#1e1e1e">C=1</text>
<line x1="1485.1" y1="415.8" x2="1561.1" y2="415.8" stroke="#0000ff" stroke-opacity="0.75" stroke-width="5.6" stroke-dasharray="15.54 6.72"/>
<polygon points="1523.1,406.8 1532.1,424.8 1514.1,424.8" fill="none" stroke="#0000ff" stroke-width="2.9" stroke-linejoin="miter"/>
<text transform="translate(1586.6 428) scale(0.950 1)" font-size="36.3" fill="#1e1e1e">C=2</text>
<line x1="1485.1" y1="471.6" x2="1561.1" y2="471.6" stroke="#008000" stroke-opacity="0.75" stroke-width="5.6" stroke-dasharray="15.54 6.72"/>
<polygon points="1532.1,471.6 1514.1,480.6 1514.1,462.6" fill="#008000" stroke="#008000" stroke-width="2.9"/>
<text transform="translate(1586.6 483.8) scale(0.950 1)" font-size="36.3" fill="#1e1e1e">C=4</text>
<line x1="1485.1" y1="527.4" x2="1561.1" y2="527.4" stroke="#000000" stroke-opacity="0.75" stroke-width="5.6"/>
<polygon points="1520.1,518.4 1526.1,518.4 1526.1,524.4 1532.1,524.4 1532.1,530.4 1526.1,530.4 1526.1,536.4 1520.1,536.4 1520.1,530.4 1514.1,530.4 1514.1,524.4 1520.1,524.4" fill="#000000" stroke="#000000" stroke-width="2.9"/>
<text transform="translate(1586.6 539.6) scale(0.950 1)" font-size="36.3" fill="#1e1e1e">C=8</text>
<line x1="1485.1" y1="583.2" x2="1561.1" y2="583.2" stroke="#ff0000" stroke-opacity="0.75" stroke-width="5.6"/>
<polygon points="1523.1,592.2 1532.1,574.2 1514.1,574.2" fill="#ff0000" stroke="#ff0000" stroke-width="2.9"/>
<text transform="translate(1586.6 595.4) scale(0.950 1)" font-size="36.3" fill="#1e1e1e">C=16</text>
<line x1="1485.1" y1="639" x2="1561.1" y2="639" stroke="#bf00bf" stroke-opacity="0.75" stroke-width="5.6"/>
<rect x="1514.1" y="630" width="18" height="18" fill="none" stroke="#bf00bf" stroke-width="2.9"/>
<text transform="translate(1586.6 651.2) scale(0.950 1)" font-size="36.3" fill="#1e1e1e">C=32</text>
<line x1="1485.1" y1="694.8" x2="1561.1" y2="694.8" stroke="#000000" stroke-opacity="0.75" stroke-width="5.6" stroke-dasharray="4.2 6.93"/>
<line x1="1514.1" y1="694.8" x2="1532.1" y2="694.8" stroke="#000000" stroke-width="2.9"/><line x1="1523.1" y1="685.8" x2="1523.1" y2="703.8" stroke="#000000" stroke-width="2.9"/>
<text transform="translate(1586.6 707) scale(0.950 1)" font-size="36.3" fill="#1e1e1e">C=64</text>
</g>
<g>
<polyline points="1525.98,1242.57 1674.23,1229.85 1822.49,1216.06 1970.75,1208.1 2119.01,1217.12 2267.27,1261.67 2415.52,1724.33" fill="none" stroke="#008000" stroke-width="4.2" stroke-linejoin="round"/>
<circle cx="1525.98" cy="1242.57" r="9" fill="#008000" stroke="#008000" stroke-width="2.9"/>
<circle cx="1674.23" cy="1229.85" r="9" fill="#008000" stroke="#008000" stroke-width="2.9"/>
<circle cx="1822.49" cy="1216.06" r="9" fill="#008000" stroke="#008000" stroke-width="2.9"/>
<circle cx="1970.75" cy="1208.1" r="9" fill="#008000" stroke="#008000" stroke-width="2.9"/>
<circle cx="2119.01" cy="1217.12" r="9" fill="#008000" stroke="#008000" stroke-width="2.9"/>
<circle cx="2267.27" cy="1261.67" r="9" fill="#008000" stroke="#008000" stroke-width="2.9"/>
<circle cx="2415.52" cy="1724.33" r="9" fill="#008000" stroke="#008000" stroke-width="2.9"/>
<polyline points="1525.98,1230.91 1674.23,1222.42 1822.49,1215 1970.75,1209.16 2119.01,1217.65 2267.27,1260.61 2415.52,1681.69" fill="none" stroke="#0000ff" stroke-width="4.2" stroke-linejoin="round" stroke-dasharray="15.54 6.72"/>
<polygon points="1525.98,1221.91 1534.98,1239.91 1516.98,1239.91" fill="none" stroke="#0000ff" stroke-width="2.9" stroke-linejoin="miter"/>
<polygon points="1674.23,1213.42 1683.23,1231.42 1665.23,1231.42" fill="none" stroke="#0000ff" stroke-width="2.9" stroke-linejoin="miter"/>
<polygon points="1822.49,1206 1831.49,1224 1813.49,1224" fill="none" stroke="#0000ff" stroke-width="2.9" stroke-linejoin="miter"/>
<polygon points="1970.75,1200.16 1979.75,1218.16 1961.75,1218.16" fill="none" stroke="#0000ff" stroke-width="2.9" stroke-linejoin="miter"/>
<polygon points="2119.01,1208.65 2128.01,1226.65 2110.01,1226.65" fill="none" stroke="#0000ff" stroke-width="2.9" stroke-linejoin="miter"/>
<polygon points="2267.27,1251.61 2276.27,1269.61 2258.27,1269.61" fill="none" stroke="#0000ff" stroke-width="2.9" stroke-linejoin="miter"/>
<polygon points="2415.52,1672.69 2424.52,1690.69 2406.52,1690.69" fill="none" stroke="#0000ff" stroke-width="2.9" stroke-linejoin="miter"/>
<polyline points="1525.98,1220.3 1674.23,1220.3 1822.49,1210.12 1970.75,1208.63 2119.01,1219.24 2267.27,1260.61 2415.52,1681.69" fill="none" stroke="#008000" stroke-width="4.2" stroke-linejoin="round" stroke-dasharray="15.54 6.72"/>
<polygon points="1534.98,1220.3 1516.98,1229.3 1516.98,1211.3" fill="#008000" stroke="#008000" stroke-width="2.9"/>
<polygon points="1683.23,1220.3 1665.23,1229.3 1665.23,1211.3" fill="#008000" stroke="#008000" stroke-width="2.9"/>
<polygon points="1831.49,1210.12 1813.49,1219.12 1813.49,1201.12" fill="#008000" stroke="#008000" stroke-width="2.9"/>
<polygon points="1979.75,1208.63 1961.75,1217.63 1961.75,1199.63" fill="#008000" stroke="#008000" stroke-width="2.9"/>
<polygon points="2128.01,1219.24 2110.01,1228.24 2110.01,1210.24" fill="#008000" stroke="#008000" stroke-width="2.9"/>
<polygon points="2276.27,1260.61 2258.27,1269.61 2258.27,1251.61" fill="#008000" stroke="#008000" stroke-width="2.9"/>
<polygon points="2424.52,1681.69 2406.52,1690.69 2406.52,1672.69" fill="#008000" stroke="#008000" stroke-width="2.9"/>
<polyline points="1525.98,1216.06 1674.23,1210.12 1822.49,1208.1 1970.75,1213.94 2119.01,1222.42 2267.27,1260.61 2415.52,1681.69" fill="none" stroke="#000000" stroke-width="4.2" stroke-linejoin="round"/>
<polygon points="1522.98,1207.06 1528.98,1207.06 1528.98,1213.06 1534.98,1213.06 1534.98,1219.06 1528.98,1219.06 1528.98,1225.06 1522.98,1225.06 1522.98,1219.06 1516.98,1219.06 1516.98,1213.06 1522.98,1213.06" fill="#000000" stroke="#000000" stroke-width="2.9"/>
<polygon points="1671.23,1201.12 1677.23,1201.12 1677.23,1207.12 1683.23,1207.12 1683.23,1213.12 1677.23,1213.12 1677.23,1219.12 1671.23,1219.12 1671.23,1213.12 1665.23,1213.12 1665.23,1207.12 1671.23,1207.12" fill="#000000" stroke="#000000" stroke-width="2.9"/>
<polygon points="1819.49,1199.1 1825.49,1199.1 1825.49,1205.1 1831.49,1205.1 1831.49,1211.1 1825.49,1211.1 1825.49,1217.1 1819.49,1217.1 1819.49,1211.1 1813.49,1211.1 1813.49,1205.1 1819.49,1205.1" fill="#000000" stroke="#000000" stroke-width="2.9"/>
<polygon points="1967.75,1204.94 1973.75,1204.94 1973.75,1210.94 1979.75,1210.94 1979.75,1216.94 1973.75,1216.94 1973.75,1222.94 1967.75,1222.94 1967.75,1216.94 1961.75,1216.94 1961.75,1210.94 1967.75,1210.94" fill="#000000" stroke="#000000" stroke-width="2.9"/>
<polygon points="2116.01,1213.42 2122.01,1213.42 2122.01,1219.42 2128.01,1219.42 2128.01,1225.42 2122.01,1225.42 2122.01,1231.42 2116.01,1231.42 2116.01,1225.42 2110.01,1225.42 2110.01,1219.42 2116.01,1219.42" fill="#000000" stroke="#000000" stroke-width="2.9"/>
<polygon points="2264.27,1251.61 2270.27,1251.61 2270.27,1257.61 2276.27,1257.61 2276.27,1263.61 2270.27,1263.61 2270.27,1269.61 2264.27,1269.61 2264.27,1263.61 2258.27,1263.61 2258.27,1257.61 2264.27,1257.61" fill="#000000" stroke="#000000" stroke-width="2.9"/>
<polygon points="2412.52,1672.69 2418.52,1672.69 2418.52,1678.69 2424.52,1678.69 2424.52,1684.69 2418.52,1684.69 2418.52,1690.69 2412.52,1690.69 2412.52,1684.69 2406.52,1684.69 2406.52,1678.69 2412.52,1678.69" fill="#000000" stroke="#000000" stroke-width="2.9"/>
<polyline points="1525.98,1210.75 1674.23,1210.12 1822.49,1210.12 1970.75,1219.24 2119.01,1225.6 2267.27,1260.61 2415.52,1681.69" fill="none" stroke="#ff0000" stroke-width="4.2" stroke-linejoin="round"/>
<polygon points="1525.98,1219.75 1534.98,1201.75 1516.98,1201.75" fill="#ff0000" stroke="#ff0000" stroke-width="2.9"/>
<polygon points="1674.23,1219.12 1683.23,1201.12 1665.23,1201.12" fill="#ff0000" stroke="#ff0000" stroke-width="2.9"/>
<polygon points="1822.49,1219.12 1831.49,1201.12 1813.49,1201.12" fill="#ff0000" stroke="#ff0000" stroke-width="2.9"/>
<polygon points="1970.75,1228.24 1979.75,1210.24 1961.75,1210.24" fill="#ff0000" stroke="#ff0000" stroke-width="2.9"/>
<polygon points="2119.01,1234.6 2128.01,1216.6 2110.01,1216.6" fill="#ff0000" stroke="#ff0000" stroke-width="2.9"/>
<polygon points="2267.27,1269.61 2276.27,1251.61 2258.27,1251.61" fill="#ff0000" stroke="#ff0000" stroke-width="2.9"/>
<polygon points="2415.52,1690.69 2424.52,1672.69 2406.52,1672.69" fill="#ff0000" stroke="#ff0000" stroke-width="2.9"/>
<polyline points="1525.98,1210.75 1674.23,1210.12 1822.49,1219.24 1970.75,1231.44 2119.01,1228.79 2267.27,1260.61 2415.52,1681.69" fill="none" stroke="#bf00bf" stroke-width="4.2" stroke-linejoin="round"/>
<rect x="1516.98" y="1201.75" width="18" height="18" fill="none" stroke="#bf00bf" stroke-width="2.9"/>
<rect x="1665.23" y="1201.12" width="18" height="18" fill="none" stroke="#bf00bf" stroke-width="2.9"/>
<rect x="1813.49" y="1210.24" width="18" height="18" fill="none" stroke="#bf00bf" stroke-width="2.9"/>
<rect x="1961.75" y="1222.44" width="18" height="18" fill="none" stroke="#bf00bf" stroke-width="2.9"/>
<rect x="2110.01" y="1219.79" width="18" height="18" fill="none" stroke="#bf00bf" stroke-width="2.9"/>
<rect x="2258.27" y="1251.61" width="18" height="18" fill="none" stroke="#bf00bf" stroke-width="2.9"/>
<rect x="2406.52" y="1672.69" width="18" height="18" fill="none" stroke="#bf00bf" stroke-width="2.9"/>
<polyline points="1525.98,1209.69 1674.23,1212.88 1822.49,1224.54 1970.75,1233.45 2119.01,1228.79 2267.27,1260.61 2415.52,1681.69" fill="none" stroke="#000000" stroke-width="4.2" stroke-linejoin="round" stroke-dasharray="4.2 6.93"/>
<line x1="1516.98" y1="1209.69" x2="1534.98" y2="1209.69" stroke="#000000" stroke-width="2.9"/><line x1="1525.98" y1="1200.69" x2="1525.98" y2="1218.69" stroke="#000000" stroke-width="2.9"/>
<line x1="1665.23" y1="1212.88" x2="1683.23" y2="1212.88" stroke="#000000" stroke-width="2.9"/><line x1="1674.23" y1="1203.88" x2="1674.23" y2="1221.88" stroke="#000000" stroke-width="2.9"/>
<line x1="1813.49" y1="1224.54" x2="1831.49" y2="1224.54" stroke="#000000" stroke-width="2.9"/><line x1="1822.49" y1="1215.54" x2="1822.49" y2="1233.54" stroke="#000000" stroke-width="2.9"/>
<line x1="1961.75" y1="1233.45" x2="1979.75" y2="1233.45" stroke="#000000" stroke-width="2.9"/><line x1="1970.75" y1="1224.45" x2="1970.75" y2="1242.45" stroke="#000000" stroke-width="2.9"/>
<line x1="2110.01" y1="1228.79" x2="2128.01" y2="1228.79" stroke="#000000" stroke-width="2.9"/><line x1="2119.01" y1="1219.79" x2="2119.01" y2="1237.79" stroke="#000000" stroke-width="2.9"/>
<line x1="2258.27" y1="1260.61" x2="2276.27" y2="1260.61" stroke="#000000" stroke-width="2.9"/><line x1="2267.27" y1="1251.61" x2="2267.27" y2="1269.61" stroke="#000000" stroke-width="2.9"/>
<line x1="2406.52" y1="1681.69" x2="2424.52" y2="1681.69" stroke="#000000" stroke-width="2.9"/><line x1="2415.52" y1="1672.69" x2="2415.52" y2="1690.69" stroke="#000000" stroke-width="2.9"/>
<rect x="1481.5" y="1155.6" width="978.5" height="636.4" fill="none" stroke="#111" stroke-width="2.7"/>
<g stroke="#111" stroke-width="2.7">
<line x1="1525.98" y1="1792" x2="1525.98" y2="1804.5"/>
<line x1="1674.23" y1="1792" x2="1674.23" y2="1804.5"/>
<line x1="1822.49" y1="1792" x2="1822.49" y2="1804.5"/>
<line x1="1970.75" y1="1792" x2="1970.75" y2="1804.5"/>
<line x1="2119.01" y1="1792" x2="2119.01" y2="1804.5"/>
<line x1="2267.27" y1="1792" x2="2267.27" y2="1804.5"/>
<line x1="2415.52" y1="1792" x2="2415.52" y2="1804.5"/>
<line x1="1471" y1="1792" x2="1481.5" y2="1792"/>
<line x1="1471" y1="1579.87" x2="1481.5" y2="1579.87"/>
<line x1="1471" y1="1367.73" x2="1481.5" y2="1367.73"/>
<line x1="1471" y1="1155.6" x2="1481.5" y2="1155.6"/>
</g>
<text transform="translate(1523.48 1853.5) scale(1.030 1)" font-size="55" text-anchor="middle" fill="#000" stroke="#000" stroke-width="0.6">−7</text>
<text transform="translate(1671.73 1853.5) scale(1.030 1)" font-size="55" text-anchor="middle" fill="#000" stroke="#000" stroke-width="0.6">−6</text>
<text transform="translate(1819.99 1853.5) scale(1.030 1)" font-size="55" text-anchor="middle" fill="#000" stroke="#000" stroke-width="0.6">−5</text>
<text transform="translate(1968.25 1853.5) scale(1.030 1)" font-size="55" text-anchor="middle" fill="#000" stroke="#000" stroke-width="0.6">−4</text>
<text transform="translate(2116.51 1853.5) scale(1.030 1)" font-size="55" text-anchor="middle" fill="#000" stroke="#000" stroke-width="0.6">−3</text>
<text transform="translate(2264.77 1853.5) scale(1.030 1)" font-size="55" text-anchor="middle" fill="#000" stroke="#000" stroke-width="0.6">−2</text>
<text transform="translate(2413.02 1853.5) scale(1.030 1)" font-size="55" text-anchor="middle" fill="#000" stroke="#000" stroke-width="0.6">−1</text>
<text transform="translate(1457.5 1813.5) scale(1.030 1)" font-size="55" text-anchor="end" fill="#000" stroke="#000" stroke-width="0.6">0.4</text>
<text transform="translate(1457.5 1601.37) scale(1.030 1)" font-size="55" text-anchor="end" fill="#000" stroke="#000" stroke-width="0.6">0.6</text>
<text transform="translate(1457.5 1389.23) scale(1.030 1)" font-size="55" text-anchor="end" fill="#000" stroke="#000" stroke-width="0.6">0.8</text>
<text transform="translate(1457.5 1177.1) scale(1.030 1)" font-size="55" text-anchor="end" fill="#000" stroke="#000" stroke-width="0.6">1.0</text>
<text transform="translate(1969.25 1921.6) scale(1.040 1)" font-size="56.5" text-anchor="middle" fill="#000" stroke="#000" stroke-width="0.6">log2(Gamma)</text>
<text transform="translate(1346 1482.8) rotate(-90) scale(1.040 1)" font-size="56.5" text-anchor="middle" fill="#000" stroke="#000" stroke-width="0.6">F2</text>
<rect x="1498.5" y="1375" width="226" height="400" rx="7" fill="#fff" fill-opacity="0.8" stroke="#ccc" stroke-opacity="0.9" stroke-width="2.9"/>
<line x1="1509.3" y1="1406.2" x2="1585.3" y2="1406.2" stroke="#008000" stroke-opacity="0.75" stroke-width="5.6"/>
<circle cx="1547.3" cy="1406.2" r="9" fill="#008000" stroke="#008000" stroke-width="2.9"/>
<text transform="translate(1610.8 1418.4) scale(0.950 1)" font-size="36.3" fill="#1e1e1e">C=1</text>
<line x1="1509.3" y1="1461.67" x2="1585.3" y2="1461.67" stroke="#0000ff" stroke-opacity="0.75" stroke-width="5.6" stroke-dasharray="15.54 6.72"/>
<polygon points="1547.3,1452.67 1556.3,1470.67 1538.3,1470.67" fill="none" stroke="#0000ff" stroke-width="2.9" stroke-linejoin="miter"/>
<text transform="translate(1610.8 1473.87) scale(0.950 1)" font-size="36.3" fill="#1e1e1e">C=2</text>
<line x1="1509.3" y1="1517.14" x2="1585.3" y2="1517.14" stroke="#008000" stroke-opacity="0.75" stroke-width="5.6" stroke-dasharray="15.54 6.72"/>
<polygon points="1556.3,1517.14 1538.3,1526.14 1538.3,1508.14" fill="#008000" stroke="#008000" stroke-width="2.9"/>
<text transform="translate(1610.8 1529.34) scale(0.950 1)" font-size="36.3" fill="#1e1e1e">C=4</text>
<line x1="1509.3" y1="1572.61" x2="1585.3" y2="1572.61" stroke="#000000" stroke-opacity="0.75" stroke-width="5.6"/>
<polygon points="1544.3,1563.61 1550.3,1563.61 1550.3,1569.61 1556.3,1569.61 1556.3,1575.61 1550.3,1575.61 1550.3,1581.61 1544.3,1581.61 1544.3,1575.61 1538.3,1575.61 1538.3,1569.61 1544.3,1569.61" fill="#000000" stroke="#000000" stroke-width="2.9"/>
<text transform="translate(1610.8 1584.81) scale(0.950 1)" font-size="36.3" fill="#1e1e1e">C=8</text>
<line x1="1509.3" y1="1628.08" x2="1585.3" y2="1628.08" stroke="#ff0000" stroke-opacity="0.75" stroke-width="5.6"/>
<polygon points="1547.3,1637.08 1556.3,1619.08 1538.3,1619.08" fill="#ff0000" stroke="#ff0000" stroke-width="2.9"/>
<text transform="translate(1610.8 1640.28) scale(0.950 1)" font-size="36.3" fill="#1e1e1e">C=16</text>
<line x1="1509.3" y1="1683.55" x2="1585.3" y2="1683.55" stroke="#bf00bf" stroke-opacity="0.75" stroke-width="5.6"/>
<rect x="1538.3" y="1674.55" width="18" height="18" fill="none" stroke="#bf00bf" stroke-width="2.9"/>
<text transform="translate(1610.8 1695.75) scale(0.950 1)" font-size="36.3" fill="#1e1e1e">C=32</text>
<line x1="1509.3" y1="1739.02" x2="1585.3" y2="1739.02" stroke="#000000" stroke-opacity="0.75" stroke-width="5.6" stroke-dasharray="4.2 6.93"/>
<line x1="1538.3" y1="1739.02" x2="1556.3" y2="1739.02" stroke="#000000" stroke-width="2.9"/><line x1="1547.3" y1="1730.02" x2="1547.3" y2="1748.02" stroke="#000000" stroke-width="2.9"/>
<text transform="translate(1610.8 1751.22) scale(0.950 1)" font-size="36.3" fill="#1e1e1e">C=64</text>
</g>
</g></svg></body></html>
